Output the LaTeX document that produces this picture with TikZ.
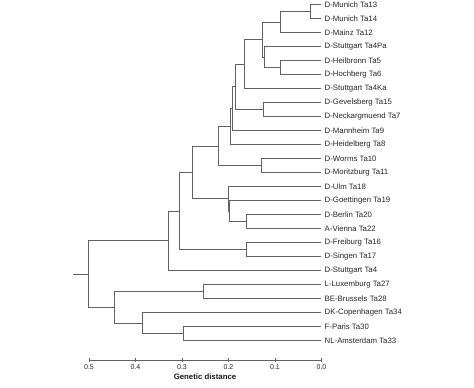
\documentclass[tikz,border=0pt]{standalone}
\usepackage{fontspec}
\setmainfont{Liberation Sans}
\begin{document}
\begin{tikzpicture}[x=1pt,y=-1pt,
  br/.style={draw=black!62,line width=0.85pt},
  leaf/.style={anchor=west,inner sep=0pt,font=\fontsize{7.8}{9}\selectfont,text=black!85},
  ticklab/.style={anchor=center,inner sep=0pt,font=\fontsize{7}{8}\selectfont,text=black!85},
  axtitle/.style={anchor=center,inner sep=0pt,font=\bfseries\fontsize{7.8}{9}\selectfont,text=black!90}]
\useasboundingbox (0,0) rectangle (474,388);
% leaf tips and labels
\foreach \i/\t in {0/D-Munich Ta13,1/D-Munich Ta14,2/D-Mainz Ta12,3/D-Stuttgart Ta4Pa,4/D-Heilbronn Ta5,5/D-Hochberg Ta6,6/D-Stuttgart Ta4Ka,7/D-Gevelsberg Ta15,8/D-Neckargmuend Ta7,9/D-Mannheim Ta9,10/D-Heidelberg Ta8,11/D-Worms Ta10,12/D-Moritzburg Ta11,13/D-Ulm Ta18,14/D-Goettingen Ta19,15/D-Berlin Ta20,16/A-Vienna Ta22,17/D-Freiburg Ta16,18/D-Singen Ta17,19/D-Stuttgart Ta4,20/L-Luxemburg Ta27,21/BE-Brussels Ta28,22/DK-Copenhagen Ta34,23/F-Paris Ta30,24/NL-Amsterdam Ta33}{
  \coordinate (t\i) at (321,{4.5+14*\i});
  \node[leaf] (l\i) at (324.5,{4.5+14*\i}) {\t};
}
% internal nodes
\coordinate (n1) at (310,11.5);
\coordinate (n2) at (280,22);
\coordinate (n3) at (280,67.5);
\coordinate (n4) at (264,57);
\coordinate (n5) at (262,39.5);
\coordinate (n6) at (244,64);
\coordinate (n7) at (263,109.5);
\coordinate (n8) at (235,86.75);
\coordinate (n9) at (232.3,108.625);
\coordinate (n10) at (230.7,126.56);
\coordinate (n11) at (261,165.5);
\coordinate (n12) at (218.5,146.03);
\coordinate (n13) at (246.7,221.5);
\coordinate (n14) at (229.4,211);
\coordinate (n15) at (228.3,198.75);
\coordinate (n16) at (192,172.39);
\coordinate (n17) at (246,249.5);
\coordinate (n18) at (179,210.95);
\coordinate (n19) at (168.3,240.7);
\coordinate (n20) at (203,291.5);
\coordinate (n21) at (183,333.5);
\coordinate (n22) at (142.5,323);
\coordinate (n23) at (114.3,307.25);
\coordinate (root) at (88.5,273.98);
\coordinate (stub) at (73,273.98);
% branches
\foreach \p/\c in {n1/t0,n1/t1,n2/n1,n2/t2,n3/t4,n3/t5,n4/t3,n4/n3,n5/n2,n5/n4,n6/n5,n6/t6,
  n7/t7,n7/t8,n8/n6,n8/n7,n9/n8,n9/t9,n10/n9,n10/t10,n11/t11,n11/t12,n12/n10,n12/n11,
  n13/t15,n13/t16,n14/t14,n14/n13,n15/t13,n15/n14,n16/n12,n16/n15,n17/t17,n17/t18,
  n18/n16,n18/n17,n19/n18,n19/t19,n20/t20,n20/t21,n21/t23,n21/t24,n22/t22,n22/n21,
  n23/n20,n23/n22,root/n19,root/n23}{
  \draw[br] (\p) |- (\c);
}
\draw[br] (stub) -- (root);
% axis
\coordinate (a0) at (89,360);
\coordinate (a1) at (321.5,360);
\draw[br,line width=0.75pt] (a0) -- (a1);
\foreach \k/\v in {0/0.5,1/0.4,2/0.3,3/0.2,4/0.1,5/0.0}{
  \coordinate (tk\k) at ({89+46.5*\k},360);
  \draw[br,line width=0.75pt] ([yshift=-2pt]tk\k) -- ([yshift=2pt]tk\k);
  \node[ticklab] (tl\k) at ({89+46.5*\k},366.8) {\v};
}
\node[axtitle] (title) at (205,376.5) {Genetic distance};
\end{tikzpicture}
\end{document}
